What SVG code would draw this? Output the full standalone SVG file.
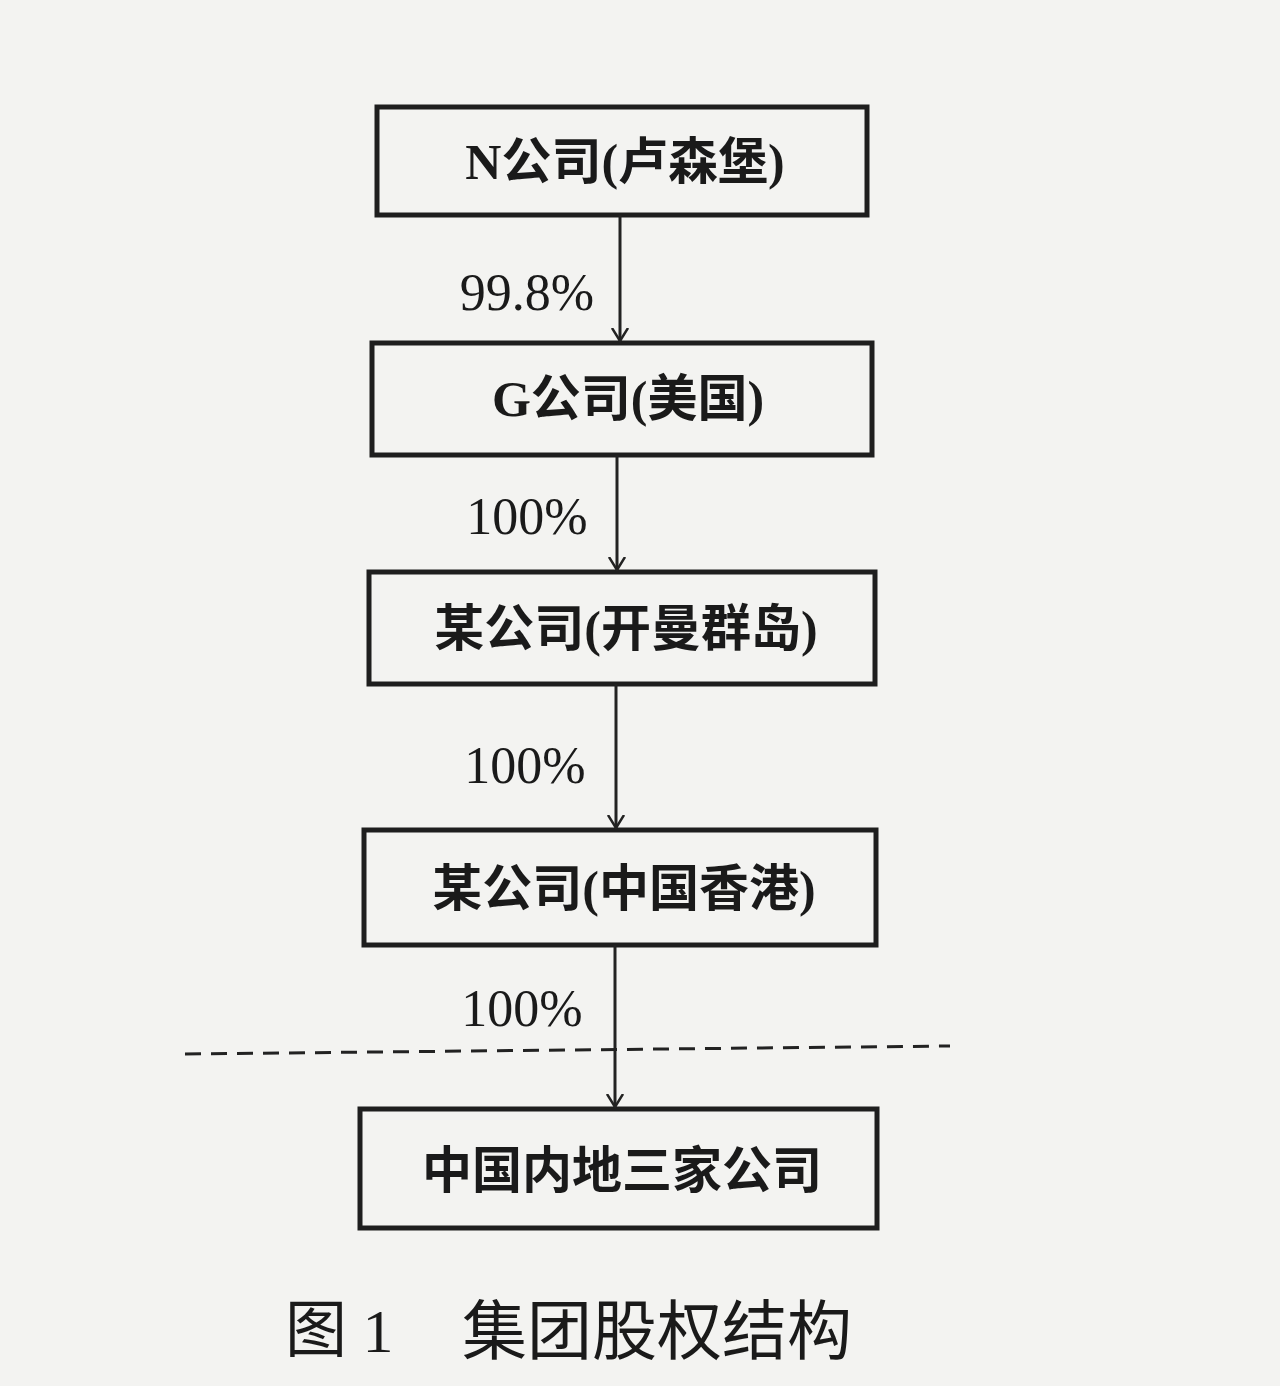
<svg xmlns="http://www.w3.org/2000/svg" width="1280" height="1386" viewBox="0 0 1280 1386">
<defs>
<style>
.box{fill:none;stroke:#1e1e1e;stroke-width:5}
.t{font-family:"Liberation Serif","Noto Sans CJK SC",serif;font-size:50px;font-weight:bold;fill:#1a1a1a;text-anchor:middle}
.p{font-family:"Liberation Serif",serif;font-size:52px;fill:#1a1a1a;text-anchor:middle}
.c{stroke:#222;stroke-width:3;fill:none}
</style>
<marker id="ah" markerWidth="14" markerHeight="18" refX="13" refY="9" orient="auto" markerUnits="userSpaceOnUse">
<path d="M0,1 L13,9 L0,17" fill="none" stroke="#222" stroke-width="2.5"/>
</marker>
</defs>
<rect width="1280" height="1386" fill="#f3f3f1"/>
<g id="n1"><rect class="box" x="377" y="107" width="490" height="108"/><text class="t" x="625" y="179">N公司(卢森堡)</text></g>
<g id="n2"><rect class="box" x="372" y="343" width="500" height="112"/><text class="t" x="628" y="416">G公司(美国)</text></g>
<g id="n3"><rect class="box" x="369" y="572" width="506" height="112"/><text class="t" x="626" y="646">某公司(开曼群岛)</text></g>
<g id="n4"><rect class="box" x="364" y="830" width="512" height="115"/><text class="t" x="624" y="906">某公司(中国香港)</text></g>
<g id="n5"><rect class="box" x="360" y="1109" width="517" height="119"/><text class="t" x="622" y="1188">中国内地三家公司</text></g>
<g id="connectors">
<line class="c" x1="620" y1="215" x2="620" y2="341" marker-end="url(#ah)"/>
<line class="c" x1="617" y1="455" x2="617" y2="570" marker-end="url(#ah)"/>
<line class="c" x1="616" y1="684" x2="616" y2="828" marker-end="url(#ah)"/>
<line class="c" x1="615" y1="945" x2="615" y2="1107" marker-end="url(#ah)"/>
<text class="p" x="527" y="310">99.8%</text>
<text class="p" x="527" y="534">100%</text>
<text class="p" x="525" y="783">100%</text>
<text class="p" x="522" y="1026">100%</text>
</g>
<line x1="185" y1="1054" x2="950" y2="1046" stroke="#222" stroke-width="3" stroke-dasharray="16,10"/>
<text x="285" y="1352" font-family="Liberation Serif,'Noto Sans CJK SC',serif" font-size="62" fill="#1a1a1a">图 1</text>
<text x="462" y="1354" font-family="'Noto Sans CJK SC',serif" font-size="65" fill="#1a1a1a">集团股权结构</text>
</svg>
